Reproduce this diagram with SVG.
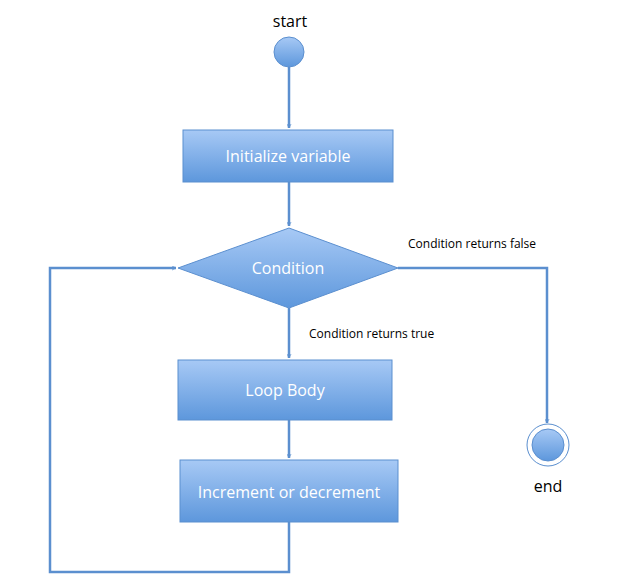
<svg xmlns="http://www.w3.org/2000/svg" width="621" height="588" viewBox="0 0 621 588">
<style>
.n{stroke:#5b8fcf;stroke-width:1;fill:url(#g)}
.c{fill:none;stroke:#5b8fcf;stroke-width:2.5}
.t{font-family:"Open Sans","Liberation Sans",sans-serif;fill:#fff;font-size:16px;text-anchor:middle}
.l{font-family:"Open Sans","Liberation Sans",sans-serif;fill:#000;font-size:12px}
.k{font-family:"Open Sans","Liberation Sans",sans-serif;fill:#000;font-size:16px;text-anchor:middle}
</style>
<defs>
<linearGradient id="g" x1="0" y1="0" x2="0" y2="1"><stop offset="0" stop-color="#a7c9f5"/><stop offset="1" stop-color="#5d97dc"/></linearGradient>
<marker id="a" viewBox="0 0 10 10" refX="9" refY="5" markerWidth="5" markerHeight="5" orient="auto" markerUnits="userSpaceOnUse"><path d="M1,1 L9,5 L1,9" fill="none" stroke="#5b8fcf" stroke-width="1.5"/></marker>
</defs>
<rect width="621" height="588" fill="#fff"/>
<g id="connectors">
<path class="c" d="M289,67 V128" marker-end="url(#a)" style="marker-end:url(#a)"/>
<path class="c" d="M289,182 V226" marker-end="url(#a)"/>
<path class="c" d="M289,308 V358" marker-end="url(#a)"/>
<path class="c" d="M289,420 V458" marker-end="url(#a)"/>
<path class="c" d="M289,522 V572 H50 V268 H176" marker-end="url(#a)"/>
<path class="c" d="M398,268 H547 V423" marker-end="url(#a)"/>
<text class="l" x="408" y="248">Condition returns false</text>
<text class="l" x="309" y="338">Condition returns true</text>
</g>
<g id="start"><circle class="n" cx="289" cy="52" r="15"/><text class="k" x="290" y="27">start</text></g>
<g id="init"><rect class="n" x="183" y="130" width="210" height="52"/><text class="t" x="288" y="162">Initialize variable</text></g>
<g id="cond"><polygon class="n" points="289,228 398,268 289,308 178,268"/><text class="t" x="288" y="274">Condition</text></g>
<g id="body"><rect class="n" x="178" y="360" width="214" height="60"/><text class="t" x="285" y="396">Loop Body</text></g>
<g id="inc"><rect class="n" x="180" y="460" width="218" height="62"/><text class="t" x="289" y="498">Increment or decrement</text></g>
<g id="end"><circle cx="548" cy="445" r="21" fill="#fff" stroke="#5b8fcf"/><circle class="n" cx="548" cy="445" r="16"/><text class="k" x="548" y="492">end</text></g>
</svg>
